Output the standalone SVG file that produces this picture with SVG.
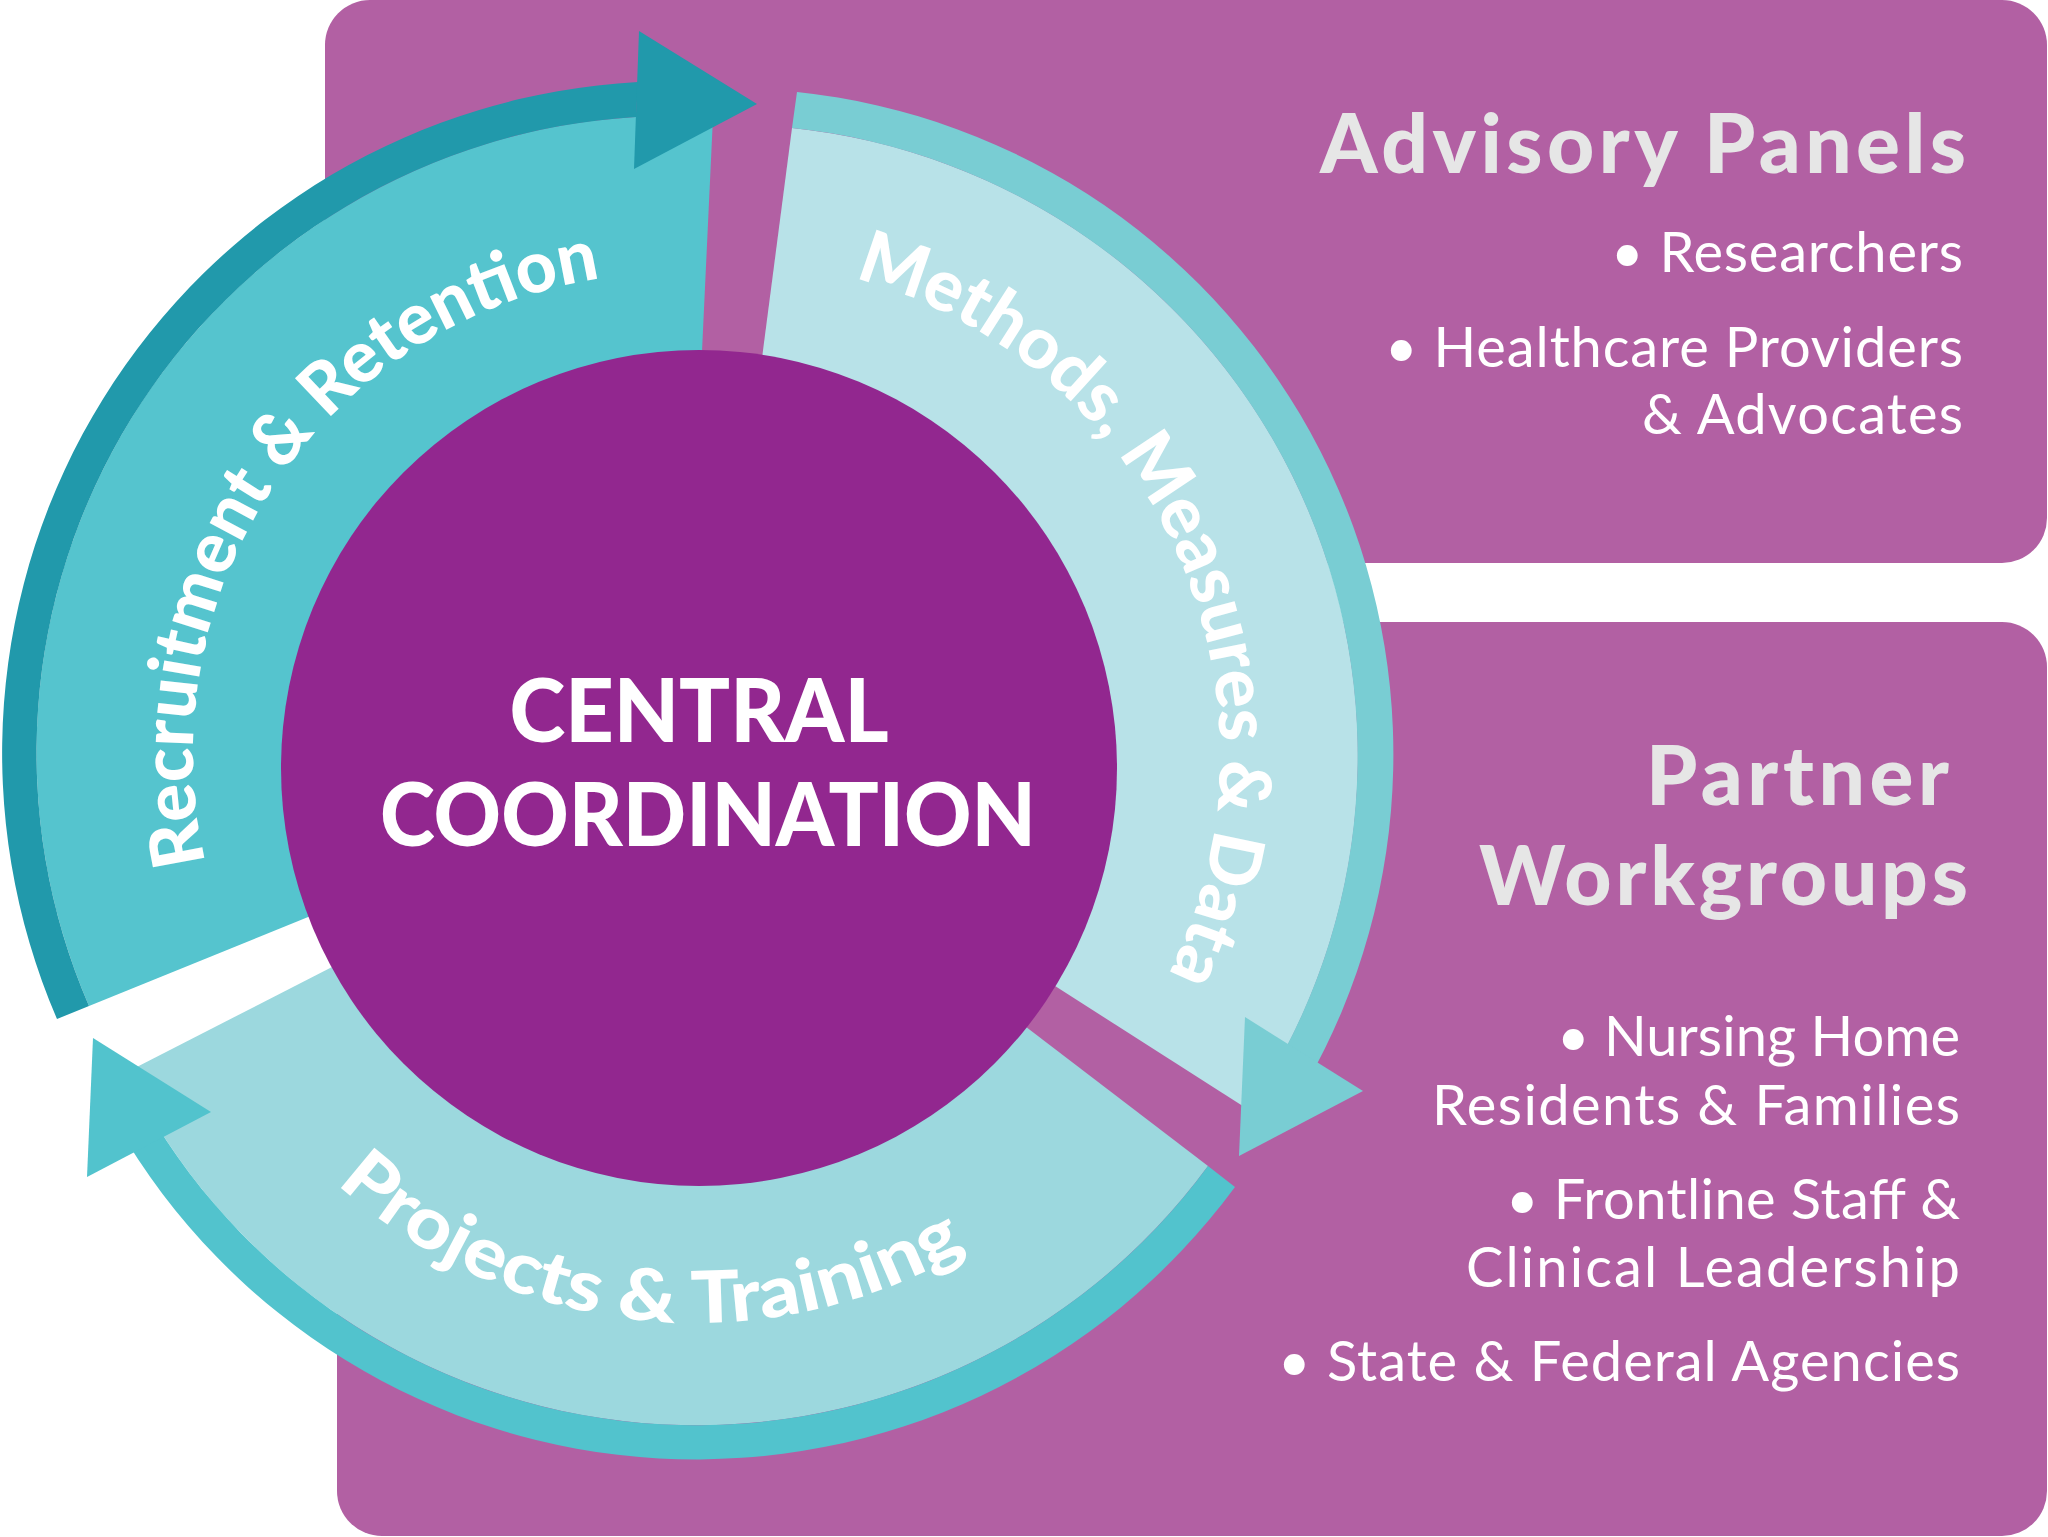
<svg xmlns="http://www.w3.org/2000/svg" xmlns:xlink="http://www.w3.org/1999/xlink" width="2048" height="1537" viewBox="0 0 2048 1537">
<defs>
<style>
.panel{fill:#B260A3}
.head{font-family:Lato,"Liberation Sans",sans-serif;font-weight:900;fill:#E6E6E6;text-anchor:end;font-size:82px}
.bul{font-family:Lato,"Liberation Sans",sans-serif;font-weight:400;fill:#FFFFFF;text-anchor:end;font-size:56px}
.seg{font-family:Lato,"Liberation Sans",sans-serif;font-weight:900;fill:#FFFFFF;font-size:72px}
.ctr{font-family:Lato,"Liberation Sans",sans-serif;font-weight:900;fill:#FFFFFF;text-anchor:middle;font-size:88px}
</style>
<path id="pR" d="M 205.7,862.6 A 480 480 0 0 1 601.2,278.4"/>
<path id="pM" d="M 854.2,278.7 A 493 493 0 0 1 1168.6,974.2"/>
<path id="pP" d="M 336.6,1183.6 A 533 533 0 0 0 966.5,1249.2"/>
</defs>
<rect width="2048" height="1537" fill="#FFFFFF"/>

<g id="advisory-panels">
<rect class="panel" x="325" y="0" width="1722" height="563" rx="45"/>
<text class="head" x="1966" y="173" textLength="646" lengthAdjust="spacing">Advisory Panels</text>
<text class="bul" x="1963" y="272" textLength="352" lengthAdjust="spacing">• Researchers</text>
<text class="bul" x="1963" y="367" textLength="578" lengthAdjust="spacing">• Healthcare Providers</text>
<text class="bul" x="1963" y="434" textLength="321" lengthAdjust="spacing">&amp; Advocates</text>
</g>

<g id="partner-workgroups">
<rect class="panel" x="337" y="622" width="1710" height="914" rx="45"/>
<text class="head" x="1949" y="805" textLength="303" lengthAdjust="spacing">Partner</text>
<text class="head" x="1968" y="905" textLength="489" lengthAdjust="spacing">Workgroups</text>
<text class="bul" x="1960" y="1056" textLength="403" lengthAdjust="spacing">• Nursing Home</text>
<text class="bul" x="1960" y="1125" textLength="528" lengthAdjust="spacing">Residents &amp; Families</text>
<text class="bul" x="1960" y="1219" textLength="454" lengthAdjust="spacing">• Frontline Staff &amp;</text>
<text class="bul" x="1960" y="1287" textLength="494" lengthAdjust="spacing">Clinical Leadership</text>
<text class="bul" x="1960" y="1381" textLength="682" lengthAdjust="spacing">• State &amp; Federal Agencies</text>
</g>

<g id="recruitment-retention">
<path d="M 559,815 L 89,1006 A 637 637 0 0 1 713,117 L 695,500 Z" fill="#55C4CE"/>
<text class="seg"><textPath href="#pR" xlink:href="#pR" textLength="792" lengthAdjust="spacingAndGlyphs">Recruitment &amp; Retention</textPath></text>
</g>

<g id="methods-measures-data">
<path d="M 750,450 L 792,128 A 631 631 0 0 1 1249,1110 L 872,869 Z" fill="#B8E2E8"/>
<text class="seg"><textPath href="#pM" xlink:href="#pM" textLength="873" lengthAdjust="spacingAndGlyphs">Methods, Measures &amp; Data</textPath></text>
</g>

<g id="projects-training">
<path d="M 861,901 L 1208,1166 A 635 635 0 0 1 127,1072 L 621,819 Z" fill="#9CD8DE"/>
<text class="seg"><textPath href="#pP" xlink:href="#pP" textLength="678" lengthAdjust="spacingAndGlyphs">Projects &amp; Training</textPath></text>
</g>

<g id="connectors">
<path d="M 57,1019 A 672 672 0 0 1 638,82 L 636,117 A 637 637 0 0 0 89,1006 Z" fill="#2199AB"/>
<path d="M 639,31 L 757,104 L 634,169 Z" fill="#2199AB"/>
<path d="M 797,92 A 666 666 0 0 1 1305.5,1085 L 1264.8,1085 A 631 631 0 0 0 792,128 Z" fill="#79CDD3"/>
<path d="M 1245,1017 L 1363,1091 L 1239,1156 Z" fill="#79CDD3"/>
<path d="M 1235,1187 A 669 669 0 0 1 116.6,1124.5 L 146,1107.5 A 635 635 0 0 0 1208,1166 Z" fill="#52C3CD"/>
<path d="M 93,1038 L 211,1112 L 87,1177 Z" fill="#52C3CD"/>
</g>

<g id="central-coordination">
<circle cx="699" cy="768" r="418" fill="#92278F"/>
<text class="ctr" x="699" y="742" textLength="379" lengthAdjust="spacingAndGlyphs">CENTRAL</text>
<text class="ctr" x="708" y="846" textLength="656" lengthAdjust="spacingAndGlyphs">COORDINATION</text>
</g>
</svg>
